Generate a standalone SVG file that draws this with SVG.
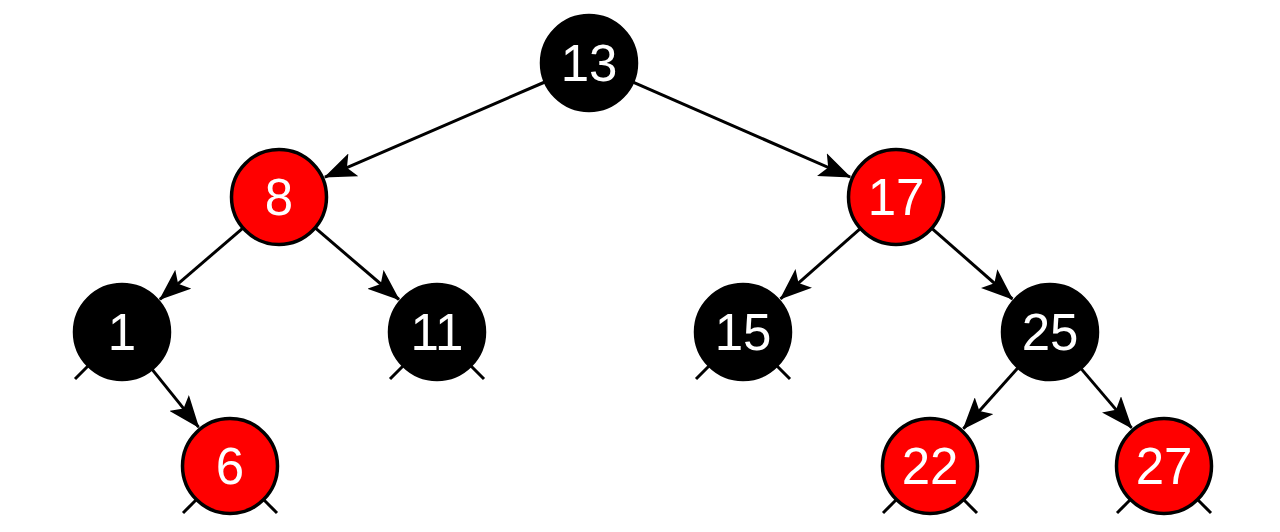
<svg xmlns="http://www.w3.org/2000/svg" width="1280" height="532" viewBox="0 0 1280 532">
<style>
.edge{stroke:#000;stroke-width:3;fill:none;marker-end:url(#arr)}
.stub{stroke:#000;stroke-width:3;fill:none}
.blk{fill:#000;stroke:#000;stroke-width:3.5}
.red{fill:#FF0000;stroke:#000;stroke-width:3.5}
.lbl{fill:#fff;font-family:"Liberation Sans",Arial,sans-serif;font-size:51px;text-anchor:middle}
</style>
<defs>
<marker id="arr" viewBox="0 0 32 25" refX="31" refY="12.5" markerWidth="32" markerHeight="25" markerUnits="userSpaceOnUse" orient="auto">
<path d="M0,0 L32,12.5 L0,25 L7,12.5 Z" fill="#000"/>
</marker>
</defs>
<rect width="1280" height="532" fill="#fff"/>
<g id="connectors">
<line class="edge" x1="544.9" y1="82" x2="324.9" y2="177.2"/>
<line class="edge" x1="633" y1="82.2" x2="850.2" y2="177"/>
<line class="edge" x1="242.6" y1="228.3" x2="159.9" y2="299.4"/>
<line class="edge" x1="315.5" y1="228.2" x2="399" y2="299.5"/>
<line class="edge" x1="860" y1="228.8" x2="780.5" y2="298.9"/>
<line class="edge" x1="932.1" y1="228.6" x2="1012.4" y2="299"/>
<line class="edge" x1="152.1" y1="369.4" x2="198.6" y2="427.1"/>
<line class="edge" x1="1018" y1="367.8" x2="963.4" y2="428.8"/>
<line class="edge" x1="1081.1" y1="368.6" x2="1131.6" y2="427.9"/>
<line class="stub" x1="88" y1="366" x2="75" y2="379"/>
<line class="stub" x1="403" y1="366" x2="390" y2="379"/>
<line class="stub" x1="471" y1="366" x2="484" y2="379"/>
<line class="stub" x1="709" y1="366" x2="696" y2="379"/>
<line class="stub" x1="777" y1="366" x2="790" y2="379"/>
<line class="stub" x1="196" y1="500" x2="183" y2="513"/>
<line class="stub" x1="264" y1="500" x2="277" y2="513"/>
<line class="stub" x1="896" y1="500" x2="883" y2="513"/>
<line class="stub" x1="964" y1="500" x2="977" y2="513"/>
<line class="stub" x1="1130" y1="500" x2="1117" y2="513"/>
<line class="stub" x1="1198" y1="500" x2="1211" y2="513"/>
</g>
<g id="n13"><circle class="blk" cx="589" cy="63" r="47.5"/><text class="lbl" x="589" y="81">13</text></g>
<g id="n8"><circle class="red" cx="279" cy="197" r="47.5"/><text class="lbl" x="279" y="215">8</text></g>
<g id="n17"><circle class="red" cx="896" cy="197" r="47.5"/><text class="lbl" x="896" y="215">17</text></g>
<g id="n1"><circle class="blk" cx="122" cy="332" r="47.5"/><text class="lbl" x="122" y="350">1</text></g>
<g id="n11"><circle class="blk" cx="437" cy="332" r="47.5"/><text class="lbl" x="437" y="350">11</text></g>
<g id="n15"><circle class="blk" cx="743" cy="332" r="47.5"/><text class="lbl" x="743" y="350">15</text></g>
<g id="n25"><circle class="blk" cx="1050" cy="332" r="47.5"/><text class="lbl" x="1050" y="350">25</text></g>
<g id="n6"><circle class="red" cx="230" cy="466" r="47.5"/><text class="lbl" x="230" y="484">6</text></g>
<g id="n22"><circle class="red" cx="930" cy="466" r="47.5"/><text class="lbl" x="930" y="484">22</text></g>
<g id="n27"><circle class="red" cx="1164" cy="466" r="47.5"/><text class="lbl" x="1164" y="484">27</text></g>
</svg>
